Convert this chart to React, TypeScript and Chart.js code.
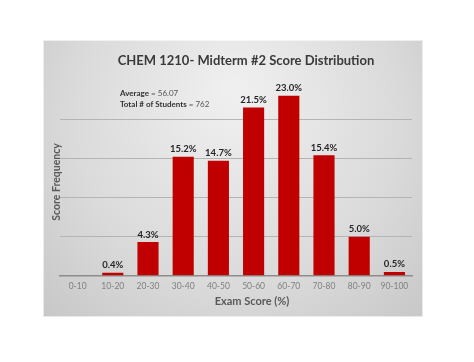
import React, { useEffect, useRef } from "react";
import { Chart, registerables } from "chart.js";

Chart.register(...registerables);

const categories = ["0-10", "10-20", "20-30", "30-40", "40-50", "50-60", "60-70", "70-80", "80-90", "90-100"];
const percentages = [0, 0.4, 4.3, 15.2, 14.7, 21.5, 23.0, 15.4, 5.0, 0.5];
const titleText = "CHEM 1210- Midterm #2 Score Distribution";
const yTitle = "Score Frequency";
const xTitle = "Exam Score (%)";
const noteLines = [
  ["Average", " = 56.07"],
  ["Total # of Students", " = 762"],
];

const FONT = "Lato, 'Open Sans', sans-serif";

const panelPlugin = {
  id: "panel",
  beforeDraw(chart: any) {
    const ctx = chart.ctx;
    ctx.save();
    ctx.fillStyle = "#ffffff";
    ctx.fillRect(0, 0, chart.width, chart.height);
    const g = ctx.createRadialGradient(235, 90, 10, 235, 150, 320);
    g.addColorStop(0, "#efefef");
    g.addColorStop(0.5, "#dadada");
    g.addColorStop(1, "#bcbcbc");
    ctx.fillStyle = g;
    ctx.fillRect(43, 40, 380, 277);
    ctx.strokeStyle = "rgba(255,255,255,0.6)";
    ctx.lineWidth = 1;
    ctx.strokeRect(43.5, 40.5, 379, 276);
    ctx.restore();
  },
};

const textPlugin = {
  id: "texts",
  afterDraw(chart: any) {
    const ctx = chart.ctx;
    const area = chart.chartArea;
    ctx.save();
    // title
    ctx.fillStyle = "#3a3a3a";
    ctx.font = `bold 13px ${FONT}`;
    ctx.textAlign = "center";
    ctx.textBaseline = "middle";
    ctx.fillText(titleText, 246, 61);
    // notes
    ctx.textAlign = "left";
    noteLines.forEach((parts, i) => {
      let x = 120;
      const y = 93 + i * 11.5;
      ctx.font = `bold 8px ${FONT}`;
      ctx.fillStyle = "#333333";
      ctx.fillText(parts[0], x, y);
      x += ctx.measureText(parts[0]).width;
      ctx.font = `8px ${FONT}`;
      ctx.fillStyle = "#555555";
      ctx.fillText(parts[1], x, y);
    });
    // x title
    ctx.textAlign = "center";
    ctx.fillStyle = "#595959";
    ctx.font = `bold 11px ${FONT}`;
    ctx.fillText(xTitle, 252, 301);
    // y title
    ctx.font = `bold 10.5px ${FONT}`;
    ctx.translate(57, (area.top + area.bottom) / 2 + 4);
    ctx.rotate(-Math.PI / 2);
    ctx.fillText(yTitle, 0, 0);
    ctx.restore();
  },
  afterDatasetsDraw(chart: any) {
    const ctx = chart.ctx;
    const meta = chart.getDatasetMeta(0);
    ctx.save();
    ctx.font = `bold 9.5px ${FONT}`;
    ctx.fillStyle = "#262626";
    ctx.textAlign = "center";
    ctx.textBaseline = "middle";
    meta.data.forEach((bar: any, i: number) => {
      const v = percentages[i];
      if (!v) return;
      ctx.fillText(v.toFixed(1) + "%", bar.x, bar.y - 7.5);
    });
    ctx.restore();
  },
};

export default function App() {
  const ref = useRef<HTMLCanvasElement>(null);
  useEffect(() => {
    const chart = new Chart(ref.current!, {
      type: "bar",
      data: {
        labels: categories,
        datasets: [
          {
            data: percentages,
            backgroundColor: "#c00000",
            borderWidth: 0,
            barPercentage: 0.6,
            categoryPercentage: 1,
          },
        ],
      },
      options: {
        responsive: false,
        animation: false,
        devicePixelRatio: 1,
        layout: { padding: { left: 60, right: 62, top: 80, bottom: 66 } },
        plugins: { legend: { display: false }, tooltip: { enabled: false }, title: { display: false } },
        scales: {
          x: {
            grid: { display: false, drawTicks: false },
            border: { display: true, color: "#8c8c8c", width: 1.5 },
            ticks: { color: "#808080", font: { family: FONT, size: 8.5 }, padding: 5, maxRotation: 0, autoSkip: false },
          },
          y: {
            min: 0,
            max: 25,
            ticks: { display: false, stepSize: 5 },
            border: { display: false },
            grid: {
              drawTicks: false,
              color: (c: any) => (c.tick && c.tick.value > 0 && c.tick.value < 25 ? "#b4b4b4" : "rgba(0,0,0,0)"),
              lineWidth: 1,
            },
          },
        },
      },
      plugins: [panelPlugin, textPlugin],
    });
    return () => chart.destroy();
  }, []);
  return (
    <div style={{ position: "absolute", left: 0, top: 0, width: 474, height: 362 }}>
      <canvas ref={ref} width={474} height={362} style={{ width: 474, height: 362, display: "block" }} />
    </div>
  );
}
